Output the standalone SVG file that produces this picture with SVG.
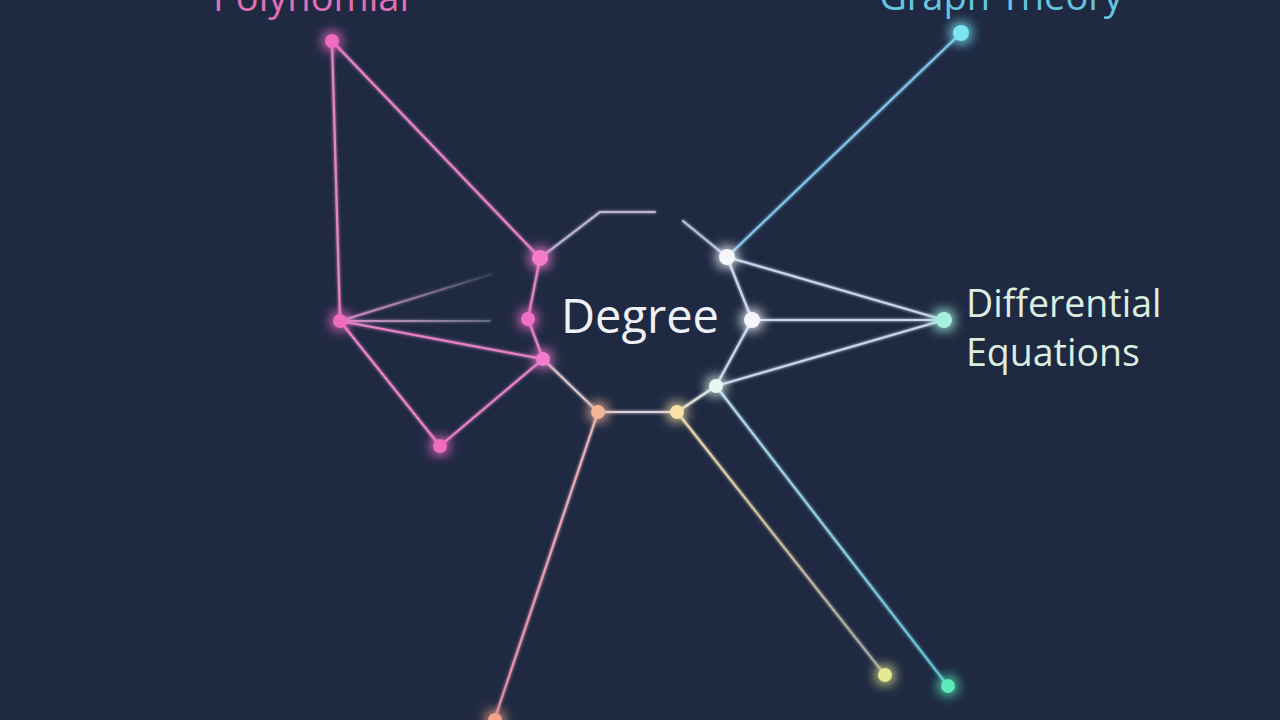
<svg xmlns="http://www.w3.org/2000/svg" width="1280" height="720" viewBox="0 0 1280 720">
<defs>
<style>
.lbl{font-family:"Open Sans","Noto Sans",sans-serif;}
.ln{fill:none;stroke-width:2.2;stroke-linecap:round;}
.pk{stroke:#e583c4;}
.wt{stroke:#c9d6ee;}
.cy{stroke:#7fc4e6;}
</style>
<filter id="glow" x="-300%" y="-300%" width="700%" height="700%">
<feGaussianBlur in="SourceGraphic" stdDeviation="7" result="b"/>
<feMerge><feMergeNode in="b"/><feMergeNode in="b"/><feMergeNode in="SourceGraphic"/></feMerge>
</filter>
<filter id="lglow" x="-20%" y="-20%" width="140%" height="140%">
<feGaussianBlur in="SourceGraphic" stdDeviation="1.5" result="b"/>
<feMerge><feMergeNode in="b"/><feMergeNode in="SourceGraphic"/></feMerge>
</filter>
<linearGradient id="fadeA" gradientUnits="userSpaceOnUse" x1="340" y1="321" x2="492" y2="274">
<stop offset="0" stop-color="#d98ac4"/><stop offset="1" stop-color="#b0a8c8" stop-opacity="0.1"/>
</linearGradient>
<linearGradient id="fadeB" gradientUnits="userSpaceOnUse" x1="340" y1="321" x2="492" y2="321">
<stop offset="0" stop-color="#d98ac4"/><stop offset="1" stop-color="#c0c4d8" stop-opacity="0.3"/>
</linearGradient>
<linearGradient id="orng" gradientUnits="userSpaceOnUse" x1="598" y1="412" x2="495" y2="718">
<stop offset="0" stop-color="#e8b6b8"/><stop offset="1" stop-color="#e58aa8"/>
</linearGradient>
<linearGradient id="yel" gradientUnits="userSpaceOnUse" x1="677" y1="412" x2="885" y2="675">
<stop offset="0" stop-color="#e8d6a8"/><stop offset="0.6" stop-color="#c0b49a"/><stop offset="1" stop-color="#9aa0a0"/>
</linearGradient>
<linearGradient id="cyn" gradientUnits="userSpaceOnUse" x1="716" y1="386" x2="948" y2="686">
<stop offset="0" stop-color="#b8d8ea"/><stop offset="1" stop-color="#5cbcd0"/>
</linearGradient>
</defs>
<rect width="1280" height="720" fill="#1f2a42"/>

<g id="connectors" filter="url(#lglow)">
<line class="ln pk" x1="332" y1="41" x2="340" y2="321"/>
<line class="ln pk" x1="332" y1="41" x2="540" y2="258"/>
<line class="ln" stroke="url(#fadeA)" x1="340" y1="321" x2="492" y2="274"/>
<line class="ln" stroke="url(#fadeB)" x1="340" y1="321" x2="490" y2="321"/>
<line class="ln pk" x1="340" y1="321" x2="543" y2="359"/>
<line class="ln pk" x1="340" y1="321" x2="440" y2="446"/>
<line class="ln pk" x1="440" y1="446" x2="543" y2="359"/>
<polyline class="ln pk" points="540,258 528,319 543,359"/>
<polyline class="ln" stroke="#c0b4d4" points="540,258 600,212 655,212"/>
<line class="ln" stroke="#b8c4dc" x1="683" y1="221" x2="727" y2="257"/>
<polyline class="ln wt" points="727,257 752,320 716,386"/>
<line class="ln" stroke="#d8c4c8" x1="543" y1="359" x2="598" y2="412"/>
<line class="ln" stroke="#e0d0d8" x1="598" y1="412" x2="677" y2="412"/>
<line class="ln" stroke="#d8dcd8" x1="677" y1="412" x2="716" y2="386"/>
<line class="ln cy" x1="727" y1="257" x2="961" y2="33"/>
<line class="ln wt" x1="727" y1="257" x2="944" y2="320"/>
<line class="ln wt" x1="752" y1="320" x2="944" y2="320"/>
<line class="ln wt" x1="716" y1="386" x2="944" y2="320"/>
<line class="ln" stroke="url(#orng)" x1="598" y1="412" x2="495" y2="718"/>
<line class="ln" stroke="url(#yel)" x1="677" y1="412" x2="885" y2="675"/>
<line class="ln" stroke="url(#cyn)" x1="716" y1="386" x2="948" y2="686"/>
</g>

<g id="n-polynomial"><circle cx="332" cy="41" r="7" fill="#f06cc0" filter="url(#glow)"/>
<text class="lbl" x="311" y="11" font-size="38" fill="#e070b4" text-anchor="middle">Polynomial</text></g>
<g id="n-graph-theory"><circle cx="961" cy="33" r="8" fill="#7ce4f4" filter="url(#glow)"/>
<text class="lbl" x="1001" y="10" font-size="38" fill="#66c4e0" text-anchor="middle">Graph Theory</text></g>
<g id="n-differential"><circle cx="944" cy="320" r="8" fill="#a8f0dc" filter="url(#glow)"/>
<text class="lbl" x="966" y="317" font-size="37.5" fill="#dceee0">Differential</text>
<text class="lbl" x="966" y="366" font-size="37.5" fill="#dceee0">Equations</text></g>
<g id="n-degree"><text class="lbl" x="640" y="333" font-size="47" fill="#eef0f6" text-anchor="middle">Degree</text></g>
<g id="n-p-left"><circle cx="340" cy="321" r="7" fill="#f06cc0" filter="url(#glow)"/></g>
<g id="n-p-bot"><circle cx="440" cy="446" r="7" fill="#f06cc0" filter="url(#glow)"/></g>
<g id="n-r1"><circle cx="540" cy="258" r="8" fill="#f27ccc" filter="url(#glow)"/></g>
<g id="n-r2"><circle cx="528" cy="319" r="7" fill="#f070c4" filter="url(#glow)"/></g>
<g id="n-r3"><circle cx="543" cy="359" r="7" fill="#f27ccc" filter="url(#glow)"/></g>
<g id="n-r4"><circle cx="598" cy="412" r="7" fill="#f4b498" filter="url(#glow)"/></g>
<g id="n-r5"><circle cx="677" cy="412" r="7" fill="#f8e0a8" filter="url(#glow)"/></g>
<g id="n-r6"><circle cx="716" cy="386" r="7" fill="#e8f6f0" filter="url(#glow)"/></g>
<g id="n-r7"><circle cx="752" cy="320" r="8" fill="#f4f6fc" filter="url(#glow)"/></g>
<g id="n-r8"><circle cx="727" cy="257" r="8" fill="#f4f6fc" filter="url(#glow)"/></g>
<g id="n-orange-end"><circle cx="495" cy="720" r="7" fill="#f4a488" filter="url(#glow)"/></g>
<g id="n-yellow-end"><circle cx="885" cy="675" r="7" fill="#e4e890" filter="url(#glow)"/></g>
<g id="n-teal-end"><circle cx="948" cy="686" r="7" fill="#5ce8b8" filter="url(#glow)"/></g>
</svg>
